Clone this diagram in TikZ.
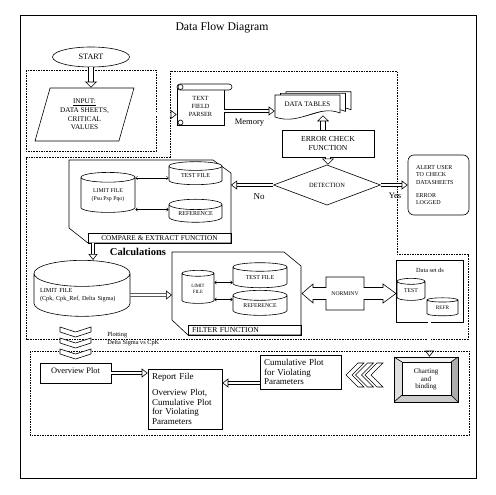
\documentclass[tikz,border=0pt]{standalone}
\usepackage{fontspec}
\setmainfont{Liberation Serif}
\usetikzlibrary{shapes.geometric, arrows.meta}

\tikzset{
	hollow/.style={double, double distance=2.6pt, -{Triangle[open, length=6pt, width=9pt, line width=.6pt 0 0]}},
	hollowwide/.style={double, double distance=4.6pt, -{Triangle[open, length=6pt, width=12pt, line width=.6pt 0 0]}},
	link/.style={{Straight Barb[length=2pt, width=3.5pt]}-{Straight Barb[length=2pt, width=3.5pt]}, line width=.4pt},
	zone/.style={dash pattern=on 1.6pt off 1pt, line width=.6pt},
	drum/.style={cylinder, shape border rotate=90, draw, fill=white, inner sep=0pt, align=center},
	box/.style={draw, inner sep=0pt, align=center},
}

\begin{document}
\begin{tikzpicture}[x=1pt, y=-1pt, line width=.6pt]
	\useasboundingbox (0,0) rectangle (495,495);
	\draw (20,15) rectangle (476,478);
	\node[font=\fontsize{11.7}{13}\selectfont] (title) at (222,28) {Data Flow Diagram};

	% dashed areas
	\draw[zone] (26,70) rectangle (156,151);
	\draw[zone] (26,157) -- (170,157) -- (170,71) -- (397,71) -- (397,254) -- (468,254) -- (468,339) -- (26,339) -- cycle;
	\draw[zone] (30,351) rectangle (469,435);

	% input and parsing
	\node[ellipse, box, minimum width=77pt, minimum height=20pt, font=\fontsize{8.2}{9}\selectfont] (start) at (91,57) {START};
	\node[trapezium, box, trapezium left angle=71, trapezium right angle=109, trapezium stretches=true, minimum width=99pt, minimum height=53pt, font=\fontsize{7.2}{8.7}\selectfont] (input) at (84.5,114.5) {\underline{INPUT:}\\DATA SHEETS,\\CRITICAL\\VALUES};
	\draw[hollowwide] (start.south) -- (start.south |- input.north);

	\node[box, fill=white, minimum width=47pt, minimum height=38pt, font=\fontsize{6.3}{8}\selectfont] (parser) at (200.5,106) {TEXT\\FIELD\\PARSER};
	\draw[fill=white, rounded corners=3pt] (177,84) rectangle (232,90);
	\draw[fill=white] (180.5,87) circle (2.5pt);
	\draw[fill=white] (180.5,122.5) circle (2.5pt);
	\draw[hollow] (input.east) -- (input.east -| parser.west);

	\foreach \d in {11,5.5,0}
		\draw[fill=white, shift={(\d,-\d*0.3)}] (275,95) -- (340,95) -- (340,113) .. controls (318,104) and (300,126) .. (275,117) -- cycle;
	\node[minimum width=65pt, minimum height=22pt, inner sep=0pt, font=\fontsize{7}{8}\selectfont] (tables) at (307.5,104) {DATA TABLES};
	\draw[hollow] ([yshift=-5pt]parser.east) -- ([yshift=-5pt]parser.east -| tables.west)
		node[midway, below=4pt, font=\fontsize{8.5}{9}\selectfont] (memory) {Memory};

	% error check
	\node[box, minimum width=92pt, minimum height=27pt, font=\fontsize{7.7}{8.5}\selectfont] (errchk) at (328,143.5) {ERROR CHECK\\FUNCTION};
	\node[diamond, box, minimum width=107pt, minimum height=28pt, font=\fontsize{6.4}{7}\selectfont] (detect) at (327,185) {DETECTION};
	\draw[hollowwide] ([xshift=-5pt]errchk.north) -- ([xshift=-5pt]errchk.north |- tables.south);
	\draw[hollowwide] (errchk.south) -- (errchk.south |- detect.north);
	\node[draw, rounded corners=6pt, minimum width=61pt, minimum height=60pt, text width=45pt, align=left, inner sep=0pt, font=\fontsize{6}{7.5}\selectfont] (alert) at (438.5,185) {ALERT USER\\TO CHECK\\DATASHEETS\\[5.5pt]ERROR\\LOGGED};
	\draw[hollow] (detect.east) -- (detect.east -| alert.west);
	\node[font=\fontsize{8.5}{9}\selectfont] (yes) at (395,196) {Yes};

	% compare and extract
	\draw[fill=white] (69,160) -- (213,160) -- (231,173) -- (231,243) -- (88,243) -- (69,228) -- cycle;
	\node[box, minimum width=143pt, minimum height=10pt, font=\fontsize{7.3}{8}\selectfont] (cmplabel) at (159.5,238) {COMPARE \& EXTRACT FUNCTION};
	\node[drum, aspect=0.3, minimum width=54pt, minimum height=40pt, font=\fontsize{5.8}{8}\selectfont] (limit) at (108,195) {LIMIT FILE\\(Psu Psp Pqo)};
	\node[drum, aspect=0.3, minimum width=53pt, minimum height=23pt, font=\fontsize{6.1}{7}\selectfont] (test1) at (195.5,175.5) {TEST FILE};
	\node[drum, aspect=0.3, minimum width=53pt, minimum height=23pt, font=\fontsize{6}{7}\selectfont] (ref1) at (195.5,213.5) {REFERENCE};
	\draw[link] ([yshift=-2.5pt]test1.west -| limit.east) -- ([yshift=-2.5pt]test1.west);
	\draw[link] ([yshift=4pt]ref1.west -| limit.east) -- ([yshift=4pt]ref1.west);
	\coordinate (cmpE) at (231,185);
	\draw[hollow] (detect.west) -- (cmpE);
	\node[font=\fontsize{9}{9}\selectfont] (no) at (259,197) {No};

	% calculations
	\node[font=\fontsize{10.5}{11}\selectfont\bfseries] (calc) at (138,252) {Calculations};
	\node[drum, aspect=0.31, minimum width=96pt, minimum height=56pt, text width=84pt, align=left, font=\fontsize{6.2}{7.5}\selectfont] (biglimit) at (82,295) {LIMIT FILE\\(Cpk, Cpk\_Ref, Delta Sigma)};
	\coordinate (cmpS) at (93,243);
	\draw[hollow] (cmpS) -- (cmpS |- biglimit.north);

	\draw[fill=white] (172,252) -- (284,252) -- (301,266) -- (301,335) -- (188,335) -- (172,320) -- cycle;
	\node[draw, minimum height=10pt, text width=105pt, inner sep=4pt, inner ysep=0pt, align=left, font=\fontsize{7.7}{8}\selectfont] (fltlabel) at (244.5,330) {FILTER FUNCTION};
	\node[drum, aspect=0.44, minimum width=32pt, minimum height=33pt, font=\fontsize{4.8}{6}\selectfont] (flimit) at (198,288.5) {LIMIT\\FILE};
	\node[drum, aspect=0.3, minimum width=54pt, minimum height=25pt, font=\fontsize{6}{7}\selectfont] (ftest) at (260,277.5) {TEST FILE};
	\node[drum, aspect=0.3, minimum width=54pt, minimum height=25pt, font=\fontsize{5.8}{7}\selectfont] (fref) at (260,305.5) {REFERENCE};
	\draw[link] ([yshift=-5pt]ftest.west -| flimit.east) -- ([yshift=-5pt]ftest.west);
	\draw[link] ([yshift=6pt]fref.west -| flimit.east) -- ([yshift=6pt]fref.west);
	\coordinate (fltW) at (172,295);
	\draw[hollow] (biglimit.east) -- (fltW);

	% norminv and data set
	\draw (302,293.5) -- (313,284) -- (313,287.5) -- (326,287.5) -- (326,277) -- (364,277) -- (364,287.5) -- (383,287.5) -- (383,284) -- (396,293.5)
		-- (383,303) -- (383,299.5) -- (364,299.5) -- (364,310) -- (326,310) -- (326,299.5) -- (313,299.5) -- (313,303) -- cycle;
	\node[font=\fontsize{5.7}{6}\selectfont] (norminv) at (345,293.5) {NORMINV};
	\node[drum, aspect=0.6, minimum width=67pt, minimum height=62pt] (dataset) at (429.5,291) {};
	\node[font=\fontsize{6.3}{7}\selectfont] (dslabel) at (430,270) {Data set ds};
	\node[drum, aspect=0.43, minimum width=28pt, minimum height=22pt, font=\fontsize{5.8}{6}\selectfont] (dtest) at (411,291) {TEST};
	\node[drum, aspect=0.32, minimum width=31pt, minimum height=18pt, font=\fontsize{5.3}{6}\selectfont] (drefr) at (442.5,308) {REFR};

	% charting
	\fill[gray!12] (394,357) -- (458,357) -- (451,362) -- (402,362) -- cycle;
	\fill[gray!25] (394,357) -- (402,362) -- (402,395) -- (394,402) -- cycle;
	\fill[gray!65] (458,357) -- (458,402) -- (451,395) -- (451,362) -- cycle;
	\fill[gray!40] (394,402) -- (458,402) -- (451,395) -- (402,395) -- cycle;
	\draw (394,357) -- (402,362) (458,357) -- (451,362) (458,402) -- (451,395) (394,402) -- (402,395);
	\draw (402,362) rectangle (451,395);
	\node[box, minimum width=64pt, minimum height=45pt, font=\fontsize{7}{7.5}\selectfont] (chart) at (426,379.5) {Charting\\and\\binding};
	\draw[hollow] (dataset.south) -- (dataset.south |- chart.north);

	\foreach \t in {365,355.5,346}
		\draw[fill=white] (\t,375) -- (\t+12,363) -- (\t+18,363) -- (\t+6,375) -- (\t+18,387) -- (\t+12,387) -- cycle;

	% plots and report
	\foreach \t in {327,338,349}
		\draw[fill=white] (60,\t) -- (75.5,\t+5) -- (91,\t) -- (91,\t+5) -- (75.5,\t+10) -- (60,\t+5) -- cycle;
	\node[anchor=west, inner sep=0pt, font=\fontsize{6.3}{7}\selectfont] (plotting) at (107,335) {Plotting};
	\node[anchor=west, inner sep=0pt, font=\fontsize{6.3}{7}\selectfont] (dsvscpk) at (107,343) {Delta Sigma vs CpK};

	\node[box, minimum width=71pt, minimum height=20pt, text depth=5pt, font=\fontsize{8.4}{9}\selectfont] (overview) at (75.5,373) {Overview Plot};
	\node[draw, minimum height=60pt, text width=66pt, inner sep=4pt, align=left, font=\fontsize{9}{9.5}\selectfont] (report) at (185,399) {Report File\\[6.5pt]Overview Plot,\\Cumulative Plot\\for Violating\\Parameters};
	\node[draw, minimum height=34pt, text width=73pt, inner sep=4pt, align=left, font=\fontsize{9}{9.3}\selectfont] (cumul) at (300.5,372) {Cumulative Plot\\for Violating\\Parameters};
	\draw[hollow] (overview.east) -- (overview.east -| report.west);
	\draw[hollow] ([yshift=-11pt]cumul.west) -- ([yshift=-11pt]cumul.west -| report.east);
\end{tikzpicture}
\end{document}
